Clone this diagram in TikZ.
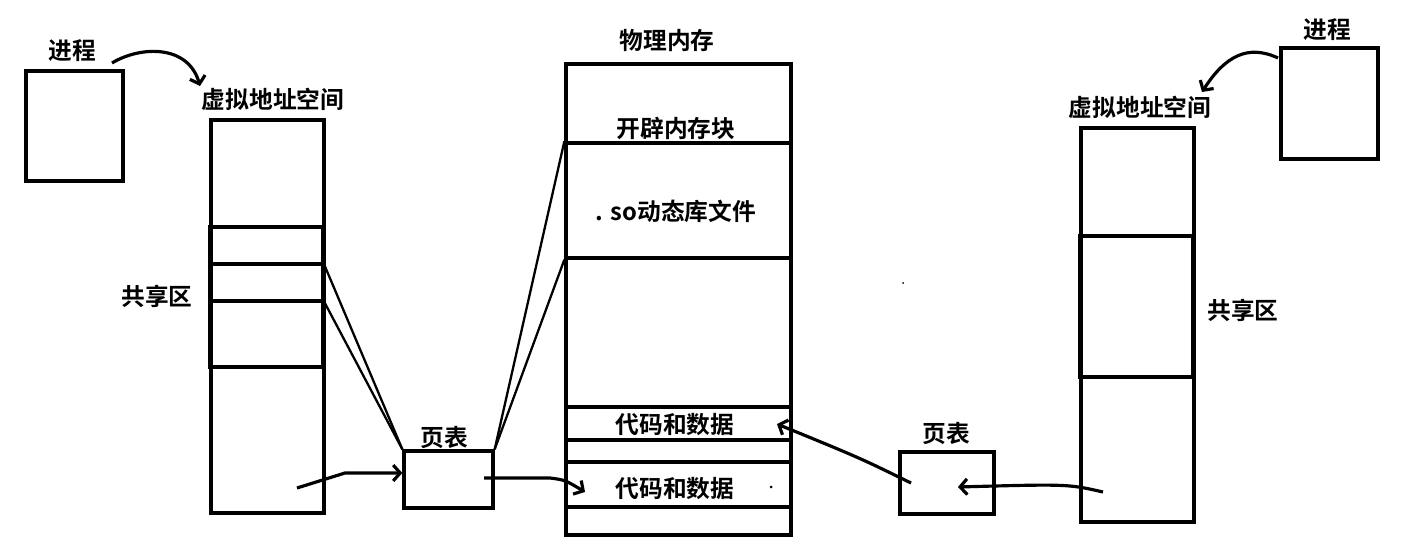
\documentclass[tikz,border=0pt]{standalone}
\usepackage{fontspec}
\setmainfont{Noto Sans CJK SC}[BoldFont=* Bold]
\usetikzlibrary{arrows.meta}
\begin{document}
\begin{tikzpicture}[x=0.02cm, y=-0.02cm,
	every node/.style={font=\fontsize{13.5}{16}\selectfont\bfseries, inner sep=0pt},
	box/.style={draw, line width=1.9pt},
	link/.style={line width=1.3pt},
	hand/.style={line width=1.8pt, -{Straight Barb[length=4pt,width=9pt]}}]
	\useasboundingbox (0,0) rectangle (1406,546);
	% left process and its virtual address space
	\node[box, minimum width=1.94cm, minimum height=2.2cm] (procL) at (74.5,126) {};
	\node (procLt) at (72,51) {进程};
	\node[box, minimum width=2.26cm, minimum height=7.86cm] (vasL) at (267.5,316.5) {};
	\node (vasLt) at (273,99) {虚拟地址空间};
	\foreach \n/\y/\h in {1/245.5/0.74cm, 2/282.5/0.74cm, 3/334/1.32cm}
		\node[box, minimum width=2.26cm, minimum height=\h] (shL\n) at (266.5,\y) {};
	\node (shLt) at (157,296) {共享区};
	% physical memory
	\node (memt) at (667,41) {物理内存};
	\foreach \n/\y/\h in {blk/103.5/1.58cm, so/200.5/2.3cm, free/332.5/2.98cm, codeA/423.5/0.66cm, gap/451/0.44cm, codeB/484.5/0.9cm, rest/521/0.56cm}
		\node[box, minimum width=4.5cm, minimum height=\h] (\n) at (678.5,\y) {};
	\node (blkt) at (676,128) {开辟内存块};
	\node (sot) at (676,211) {. so动态库文件};
	\node (codeAt) at (675,425) {代码和数据};
	\node (codeBt) at (675,489) {代码和数据};
	% page tables
	\node[box, minimum width=1.78cm, minimum height=1.14cm] (ptL) at (448.5,479.5) {};
	\node (ptLt) at (444,438) {页表};
	\node[box, minimum width=1.88cm, minimum height=1.24cm] (ptR) at (947,483) {};
	\node (ptRt) at (946,434) {页表};
	% right process and its virtual address space
	\node[box, minimum width=1.94cm, minimum height=2.22cm] (procR) at (1329.5,103.5) {};
	\node (procRt) at (1327,30) {进程};
	\node[box, minimum width=2.26cm, minimum height=7.88cm] (vasR) at (1137.5,325) {};
	\node (vasRt) at (1140,107) {虚拟地址空间};
	\node[box, minimum width=2.26cm, minimum height=2.82cm] (shR) at (1136.5,306.5) {};
	\node (shRt) at (1243,310) {共享区};
	% free ends of the hand drawn arrows
	\coordinate (aL) at (112,63);
	\coordinate (aLe) at (200,86);
	\coordinate (aR) at (1278,58);
	\coordinate (aRe) at (1202,92);
	\coordinate (vL) at (297,488);
	\coordinate (pL) at (484,478);
	\coordinate (cB) at (585,492);
	\coordinate (vR) at (1103,492);
	\coordinate (pR) at (958,487);
	\coordinate (pR2) at (911,483);
	\coordinate (cA) at (777,424);
	% connectors
	\draw[hand] (aL) .. controls (140,46) and (188,44) .. (aLe);
	\draw[hand] (aR) .. controls (1248,44) and (1225,56) .. (aRe);
	\draw[link] (shL1.south east) -- (ptL.north west);
	\draw[link] (shL2.south east) -- (ptL.north west);
	\draw[link] (ptL.north east) -- (so.north west);
	\draw[link] (ptL.north east) -- (so.south west);
	\draw[hand] (vL) -- (345,473) -- ([yshift=0.13cm]ptL.west);
	\draw[hand] (pL) -- (550,478) .. controls (565,480) .. (cB);
	\draw[hand] (vR) .. controls (1068,484) .. (pR);
	\draw[hand] (pR2) .. controls (860,458) .. (cA);
	% stray dots
	\fill (771,487) circle (1.5);
	\fill (903,283) circle (1);
\end{tikzpicture}
\end{document}
